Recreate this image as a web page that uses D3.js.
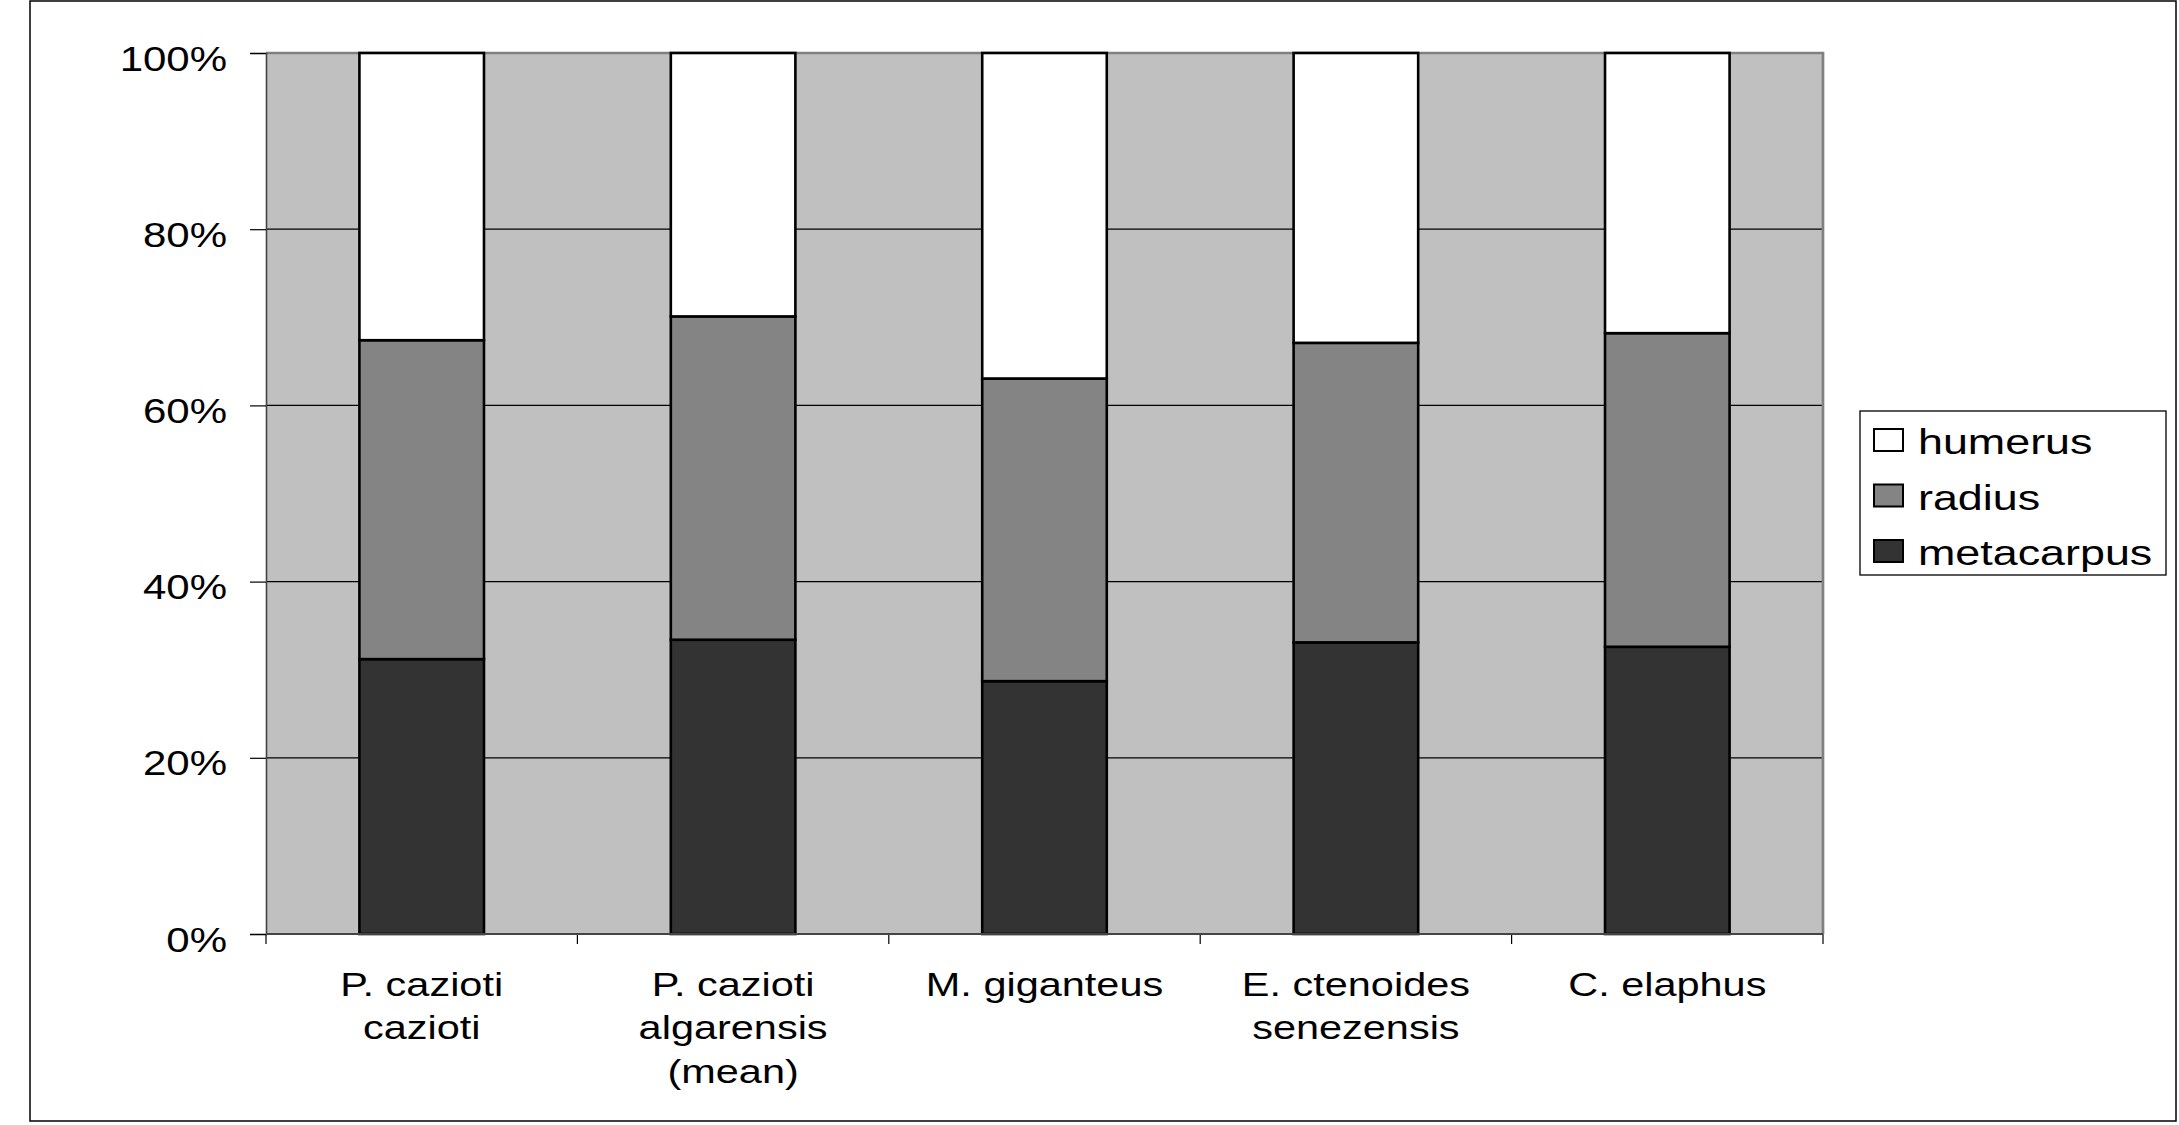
<!DOCTYPE html>
<html>
<head>
<meta charset="utf-8">
<script src="https://cdn.jsdelivr.net/npm/d3@7"></script>
<style>
  html, body { margin: 0; padding: 0; background: #ffffff; }
  svg { display: block; }
  text { font-family: "Liberation Sans", Arial, sans-serif; fill: #000; }
</style>
</head>
<body>
<svg id="chart" width="2179" height="1125"></svg>
<script>
// ---- data ----
const categories = [
  ["P. cazioti", "cazioti"],
  ["P. cazioti", "algarensis", "(mean)"],
  ["M. giganteus"],
  ["E. ctenoides", "senezensis"],
  ["C. elaphus"]
];
const categoryKeys = ["P. cazioti cazioti", "P. cazioti algarensis (mean)", "M. giganteus", "E. ctenoides senezensis", "C. elaphus"];
const metacarpus = [31.2, 33.4, 28.7, 33.1, 32.6];
const radius     = [36.2, 36.7, 34.35, 34.0, 35.6];
const humerus    = [32.6, 29.9, 36.95, 32.9, 31.8];
const seriesNames = ["metacarpus", "radius", "humerus"];
const legendOrder = ["humerus", "radius", "metacarpus"];
const yTicks = [0, 0.2, 0.4, 0.6, 0.8, 1.0];

const colors = { humerus: "#ffffff", radius: "#848484", metacarpus: "#333333" };

// ---- layout ----
const svg = d3.select("#chart");
const plot = { left: 266, right: 1823, top: 53, bottom: 934 };

// outer frame
svg.append("rect")
  .attr("x", 30).attr("y", 1).attr("width", 2146).attr("height", 1120)
  .attr("fill", "#fff").attr("stroke", "#000").attr("stroke-width", 1.5);

const rows = categoryKeys.map((k, i) => ({
  key: k, metacarpus: metacarpus[i], radius: radius[i], humerus: humerus[i]
}));
const stacked = d3.stack().keys(seriesNames).offset(d3.stackOffsetExpand)(rows);

const x = d3.scaleBand().domain(categoryKeys).range([plot.left, plot.right]).padding(0);
const y = d3.scaleLinear().domain([0, 1]).range([plot.bottom, plot.top]);
const barW = x.bandwidth() * 0.4;

// plot area background
svg.append("rect")
  .attr("x", plot.left).attr("y", plot.top)
  .attr("width", plot.right - plot.left).attr("height", plot.bottom - plot.top)
  .attr("fill", "#c0c0c0");

// gridlines
svg.append("g").selectAll("line")
  .data(yTicks.filter(t => t > 0 && t < 1))
  .join("line")
  .attr("x1", plot.left).attr("x2", plot.right)
  .attr("y1", d => y(d)).attr("y2", d => y(d))
  .attr("stroke", "#000").attr("stroke-width", 1.2);

// plot border top/right (gray)
svg.append("path")
  .attr("d", `M${plot.left},${plot.top}H${plot.right}V${plot.bottom}`)
  .attr("fill", "none").attr("stroke", "#808080").attr("stroke-width", 2.7);

// bars
svg.append("g").selectAll("g")
  .data(stacked)
  .join("g")
  .attr("fill", d => colors[d.key])
  .selectAll("rect")
  .data(d => d)
  .join("rect")
  .attr("x", d => x(d.data.key) + (x.bandwidth() - barW) / 2)
  .attr("width", barW)
  .attr("y", d => y(d[1]))
  .attr("height", d => y(d[0]) - y(d[1]))
  .attr("stroke", "#000").attr("stroke-width", 2.6);

// y axis
const yAxis = svg.append("g")
  .attr("transform", `translate(${plot.left},0)`)
  .call(d3.axisLeft(y).tickValues(yTicks).tickSize(16).tickFormat(d3.format(".0%")));
yAxis.select(".domain").attr("stroke", "#444").attr("stroke-width", 1.6);
yAxis.selectAll(".tick line").attr("stroke", "#000").attr("stroke-width", 1.2);
yAxis.selectAll(".tick text")
  .attr("x", 0).attr("dy", null)
  .attr("text-anchor", "end")
  .attr("transform", `translate(-39,17) scale(1.2,1)`)
  .style("font-size", "35px").style("font-family", "'Liberation Sans', Arial, sans-serif")
  .attr("fill", "#000");

// x axis line + ticks at band boundaries
const xAxisG = svg.append("g");
const boundaries = categoryKeys.map(k => x(k)).concat([x(categoryKeys[categoryKeys.length - 1]) + x.bandwidth()]);
xAxisG.selectAll("line.tick")
  .data(boundaries)
  .join("line")
  .attr("class", "tick")
  .attr("x1", d => d).attr("x2", d => d)
  .attr("y1", plot.bottom).attr("y2", plot.bottom + 10)
  .attr("stroke", "#000").attr("stroke-width", 1.2);
xAxisG.append("line")
  .attr("x1", plot.left).attr("x2", plot.right)
  .attr("y1", plot.bottom).attr("y2", plot.bottom)
  .attr("stroke", "#444").attr("stroke-width", 2);

// x labels
const lineGap = 43.3;
const xl = svg.append("g");
categories.forEach((lines, i) => {
  const cx = x(categoryKeys[i]) + x.bandwidth() / 2;
  lines.forEach((ln, j) => {
    xl.append("text")
      .attr("text-anchor", "middle")
      .attr("transform", `translate(${cx},${996 + j * lineGap}) scale(1.22,1)`)
      .style("font-size", "34px")
      .text(ln);
  });
});

// legend
const lg = svg.append("g");
lg.append("rect")
  .attr("x", 1860).attr("y", 411).attr("width", 306).attr("height", 164)
  .attr("fill", "#fff").attr("stroke", "#000").attr("stroke-width", 1.3);
legendOrder.forEach((name, i) => {
  const yy = 429 + i * 55.5;
  lg.append("rect")
    .attr("x", 1874).attr("y", yy).attr("width", 29).attr("height", 22)
    .attr("fill", colors[name]).attr("stroke", "#000").attr("stroke-width", 2);
  lg.append("text")
    .attr("transform", `translate(1918,${454 + i * 55.5}) scale(1.3,1)`)
    .style("font-size", "34.5px")
    .text(name);
});
</script>
</body>
</html>
